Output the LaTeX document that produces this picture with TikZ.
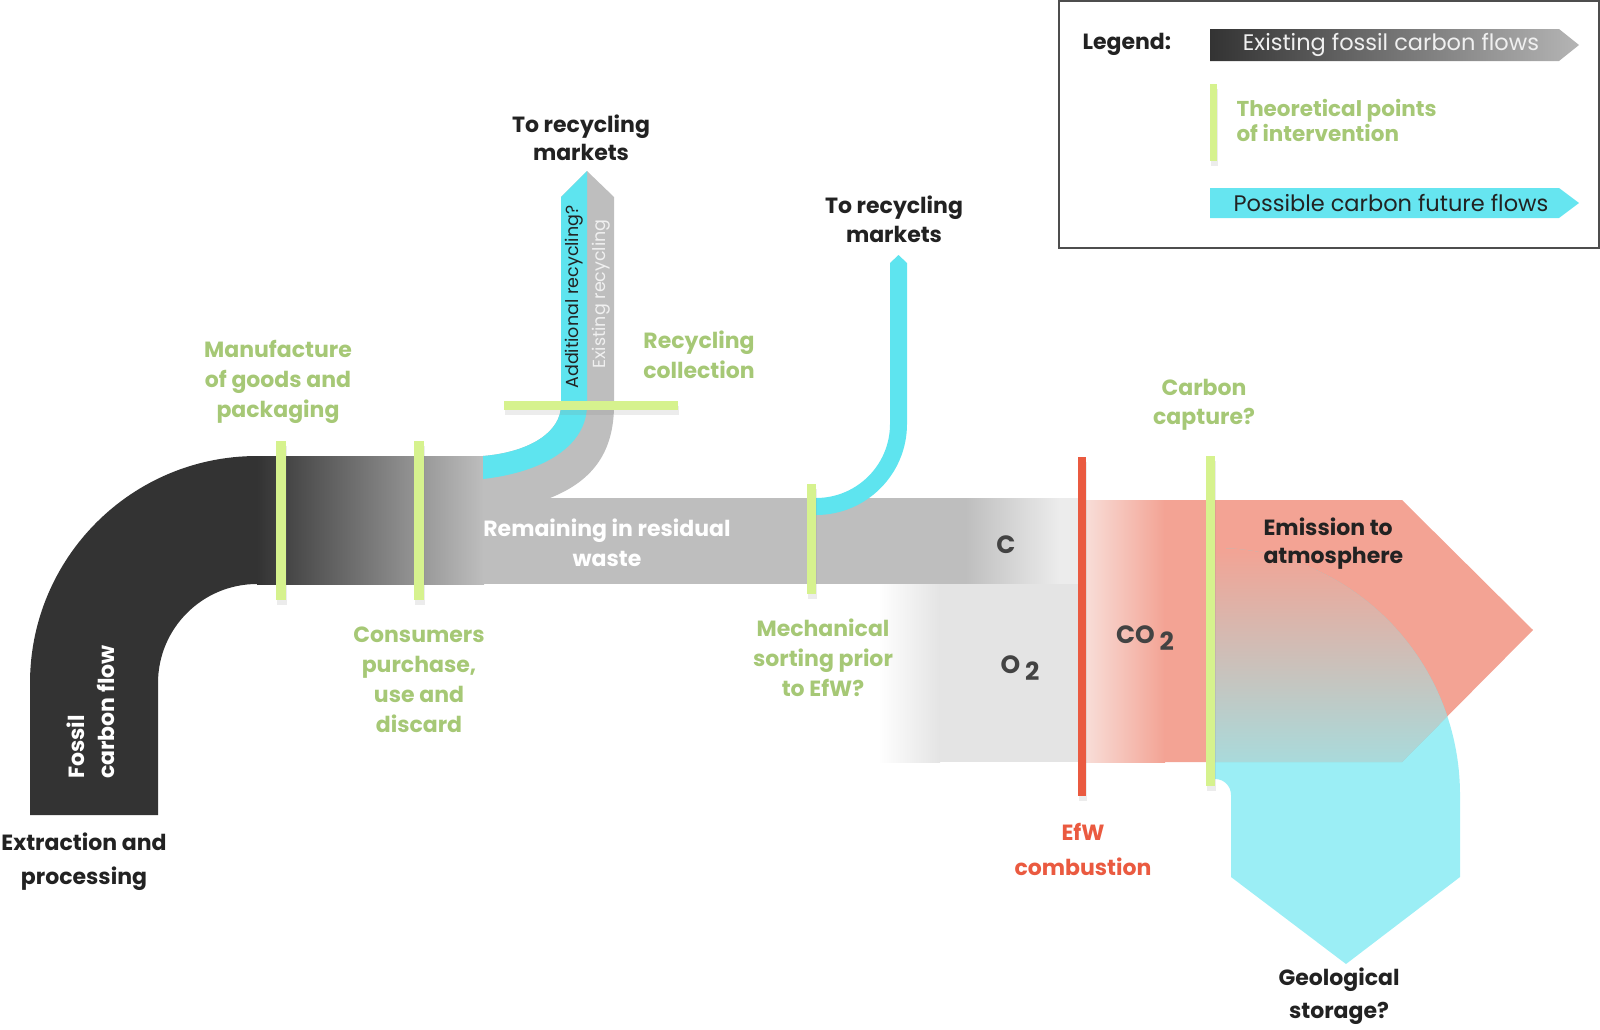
\documentclass[tikz,border=0pt]{standalone}
\usepackage{fontspec}
\setmainfont{Poppins}
\usetikzlibrary{shadows}

\definecolor{ink}{HTML}{222222}
\definecolor{coal}{HTML}{333333}
\definecolor{ash}{HTML}{BEBEBE}
\definecolor{mist}{HTML}{E4E4E4}
\definecolor{sprout}{HTML}{D6F28E}
\definecolor{leaf}{HTML}{A6C876}
\definecolor{sky}{HTML}{5EE4EF}
\definecolor{salmon}{HTML}{F3A394}
\definecolor{blush}{HTML}{F8E0DB}
\definecolor{ember}{HTML}{EA5A40}
\definecolor{lobemix}{HTML}{A9DADB}

\tikzset{
  lbl/.style={font=\bfseries\fontsize{22}{30}\selectfont, text=ink, align=center},
  green lbl/.style={lbl, text=leaf},
  gas/.style={font=\bfseries\fontsize{25}{28}\selectfont, text=ink!85},
  flowtxt/.style={font=\fontsize{17.5}{20}\selectfont, text=ink},
  keytxt/.style={font=\fontsize{22.5}{26}\selectfont, text=ink},
  bar/.style={fill=sprout, drop shadow={opacity=0.15, shadow xshift=1pt, shadow yshift=-5pt}}
}

\begin{document}
\begin{tikzpicture}[x=1pt, y=-1pt]
\useasboundingbox (0,0) rectangle (1600,1029);

% fossil flow
\fill[coal] (30,815) -- (30,683) .. controls (30,557.6) and (131.6,456) .. (257,456) -- (258,456) -- (258,584) -- (257,584) .. controls (202.3,584) and (158,628.3) .. (158,683) -- (158,815) -- cycle;
\shade[left color=coal, right color=ash] (257,456) rectangle (484,584);

% recycling branch
\fill[ash] (483,456) .. controls (530,452) and (561,432) .. (561,405) -- (561,197) -- (587,171) -- (614,197) -- (614,405) .. controls (614,455) and (590,482) .. (550,498) -- (483,498) -- cycle;
\fill[sky] (483,456) .. controls (530,452) and (561,432) .. (561,405) -- (561,197) -- (587,171) -- (587,405) .. controls (587,445) and (545,472) .. (483,479) -- cycle;

% residual waste and oxygen
\fill[ash] (483,498) rectangle (966,584);
\shade[left color=ash, right color=mist!70!white] (965,498) rectangle (1060,584);
\fill[mist!70!white] (1059,498) rectangle (1082,584);
\shade[left color=white, right color=mist] (878,584) rectangle (940,762);
\fill[mist] (939,584) rectangle (1082,762);

% sorting branch
\fill[sky] (812,498) -- (816,498) .. controls (856.9,498) and (890,464.9) .. (890,424) -- (890,263) -- (898.5,255) -- (907,263) -- (907,424) .. controls (907,474.3) and (866.3,515) .. (816,515) -- (812,515) -- cycle;

% combustion and emission
\shade[left color=blush, right color=salmon] (1082,500) rectangle (1165,762);
\fill[salmon] (1164,500) -- (1402,500) -- (1533,630) -- (1402,762) -- (1164,762) -- cycle;

% storage
\fill[sky, fill opacity=0.62] (1215,548) .. controls (1350.3,548) and (1460,658.6) .. (1460,795) -- (1460,877) -- (1346,964) -- (1231,877) -- (1231,795) .. controls (1231,786) and (1224,779) .. (1215,779) -- cycle;
\begin{scope}
  \clip (1215,548) .. controls (1350.3,548) and (1460,658.6) .. (1460,795) -- (1460,877) -- (1346,964) -- (1231,877) -- (1231,795) .. controls (1231,786) and (1224,779) .. (1215,779) -- cycle;
  \clip (1164,500) -- (1402,500) -- (1533,630) -- (1402,762) -- (1164,762) -- cycle;
  \shade[top color=salmon, bottom color=lobemix] (1215,548) rectangle (1470,762);
\end{scope}

% intervention points
\fill[bar] (276,441) rectangle (286,600);
\fill[bar] (414,441) rectangle (424,600);
\fill[bar] (504,401) rectangle (678,410);
\fill[bar] (807,484) rectangle (816,594);
\fill[bar] (1206,456) rectangle (1215,786);
\fill[ember, drop shadow={opacity=0.15, shadow xshift=1pt, shadow yshift=-5pt}] (1078,457) rectangle (1086,796);

% labels
\node[lbl, font=\bfseries\fontsize{22}{34}\selectfont] (extract) at (84,862) {Extraction and\\processing};
\node[lbl, text=white, align=left, rotate=90] (fossil) at (91,712) {Fossil\\carbon flow};
\node[green lbl] (manuf) at (278,382) {Manufacture\\of goods and\\packaging};
\node[green lbl] (consum) at (419,680) {Consumers\\purchase,\\use and\\discard};
\node[lbl, font=\bfseries\fontsize{22}{28}\selectfont] (market1) at (581,138) {To recycling\\markets};
\node[flowtxt, rotate=90] (addrec) at (574,297) {Additional recycling?};
\node[flowtxt, text=white!94!black, rotate=90] (exrec) at (601,294) {Existing recycling};
\node[green lbl] (collect) at (699,355) {Recycling\\collection};
\node[lbl, text=white] (resid) at (607,543) {Remaining in residual\\waste};
\node[green lbl] (sort) at (823,658) {Mechanical\\sorting prior\\to EfW?};
\node[lbl, font=\bfseries\fontsize{22}{29}\selectfont] (market2) at (894,219) {To recycling\\markets};
\node[gas] (carbon) at (1006,545) {C};
\node[gas] (oxygen) at (1020,668) {O\hspace{5pt}\raisebox{-7pt}{2}};
\node[lbl, text=ember, font=\bfseries\fontsize{22}{35}\selectfont] (efw) at (1083,849) {EfW\\combustion};
\node[gas] (dioxide) at (1145,638) {CO\hspace{5pt}\raisebox{-7pt}{2}};
\node[green lbl, font=\bfseries\fontsize{22}{29}\selectfont] (capture) at (1204,405) {Carbon\\capture?};
\node[lbl, align=left, anchor=west, font=\bfseries\fontsize{22}{28}\selectfont] (emit) at (1260,544) {Emission to\\atmosphere};
\node[lbl, font=\bfseries\fontsize{22}{33}\selectfont] (geo) at (1339,996) {Geological\\storage?};

% legend
\draw[line width=1.2pt, draw=ink!80] (1059,1) rectangle (1599,248);
\node[lbl, anchor=west] (legend) at (1079,44) {Legend:};
\shade[left color=coal, right color=ash!95!black] (1210,29) -- (1559,29) -- (1579,45) -- (1559,61) -- (1210,61) -- cycle;
\node[keytxt, text=white!94!black] (keyfossil) at (1391,45) {Existing fossil carbon flows};
\fill[bar] (1210,84) rectangle (1217,161);
\node[green lbl, align=left, anchor=west, font=\bfseries\fontsize{21.5}{25}\selectfont] (keystop) at (1233,120) {Theoretical points\\of intervention};
\fill[sky!95!white] (1210,188) -- (1559,188) -- (1579,203) -- (1559,218) -- (1210,218) -- cycle;
\node[keytxt] (keyfuture) at (1391,203) {Possible carbon future flows};
\end{tikzpicture}
\end{document}
